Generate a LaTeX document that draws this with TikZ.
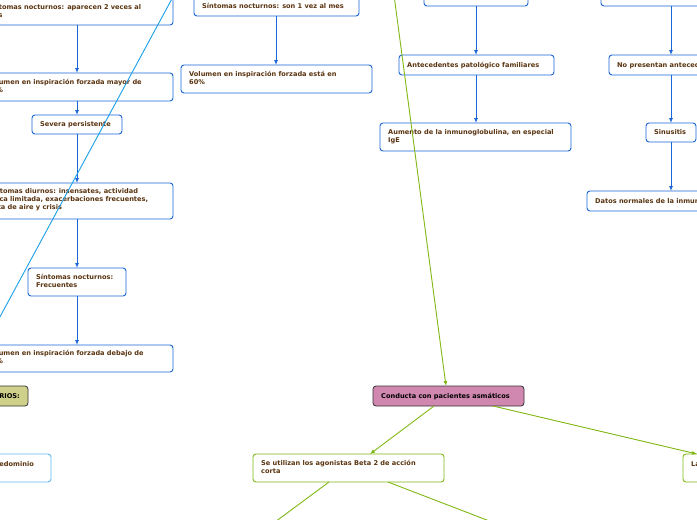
\documentclass[tikz,border=0pt]{standalone}
\usepackage{fontspec}
\setmainfont{DejaVu Sans}
\usetikzlibrary{arrows.meta}
\definecolor{bl}{HTML}{1A66D9}
\definecolor{cy}{HTML}{1AA0E8}
\definecolor{gr}{HTML}{80B814}
\definecolor{tx}{HTML}{5A3410}
\definecolor{pk}{HTML}{D088B0}
\definecolor{ol}{HTML}{CFD08A}
\tikzset{
 bx/.style={draw=bl,line width=0.9pt,rounded corners=3pt,fill=white},
 gbx/.style={draw=gr,line width=0.9pt,rounded corners=3pt,fill=white},
 lbx/.style={draw=cy!70,line width=0.9pt,rounded corners=3pt,fill=white},
 tt/.style={anchor=north west,inner sep=0pt,font=\fontsize{6.6}{8}\selectfont\bfseries,text=tx,align=left},
 ba/.style={draw=bl,line width=0.9pt,-{Latex[length=5pt,width=4pt]}},
 ga/.style={draw=gr,line width=0.9pt,-{Latex[length=5pt,width=4pt]}},
}
\begin{document}
\begin{tikzpicture}[x=1pt,y=-1pt]
\useasboundingbox (0,0) rectangle (697,520);
\clip (0,0) rectangle (697,520);
\fill[white] (0,0) rectangle (697,520);
% blue boxes
\draw[bx] (-10,-5) rectangle (173,25); \node[tt] (a) at (-13,4) {Síntomas nocturnos: aparecen 2 veces al\\mes};
\draw[bx] (194,-5) rectangle (359,16); \node[tt] (b) at (202,3) {Síntomas nocturnos: son 1 vez al mes};
\draw[bx] (181,65) rectangle (372,93); \node[tt] (c) at (189,71) {Volumen en inspiración forzada está en\\60\%};
\draw[bx] (-10,73) rectangle (173,101); \node[tt] (d) at (-13,79) {Volumen en inspiración forzada mayor de\\80\%};
\draw[bx] (32,115) rectangle (122,134); \node[tt] (e) at (40,121) {Severa persistente};
\draw[bx] (-10,183) rectangle (173,219); \node[tt] (f) at (-12,188) {Síntomas diurnos: insensates, actividad\\física limitada, exacerbaciones frecuentes,\\falta de aire y crisis};
\draw[bx] (28,268) rectangle (126,296); \node[tt] (g) at (36,274) {Síntomas nocturnos:\\Frecuentes};
\draw[bx] (-10,345) rectangle (173,372); \node[tt] (h) at (-13,350) {Volumen en inspiración forzada debajo de\\60\%};
\draw[draw=black!80,fill=ol,line width=0.8pt,rounded corners=3pt] (-10,386) rectangle (28,406);
\node[tt,anchor=north east,text=black] (i) at (20,393) {CRITERIOS:};
\draw[lbx] (-10,454) rectangle (51,482); \node[tt,anchor=north east] (j) at (34,461) {Predominio};
\draw[bx] (424,-5) rectangle (528,6);
\draw[bx] (399,55) rectangle (554,75); \node[tt] (l) at (407,62) {Antecedentes patológico familiares};
\draw[bx] (380,123) rectangle (571,151); \node[tt] (m) at (388,129) {Aumento de la inmunoglobulina, en especial\\IgE};
\draw[bx] (601,-5) rectangle (705,6);
\draw[bx] (609,55) rectangle (705,75); \node[tt] (o) at (617,62) {No presentan antecedentes};
\draw[bx] (646,123) rectangle (696,142); \node[tt] (p) at (654,129) {Sinusitis};
\draw[bx] (587,191) rectangle (705,211); \node[tt] (q) at (595,198) {Datos normales de la inmunoglobulina};
% blue arrows
\coordinate (k) at (476,6); \coordinate (n) at (671,6);
\draw[ba] (77,25) -- (77,73);
\draw[ba] (77,101) -- (77,115);
\draw[ba] (77,134) -- (77,183);
\draw[ba] (77,219) -- (77,268);
\draw[ba] (77,296) -- (77,345);
\draw[ba] (276,16) -- (276,65);
\draw[ba] (k) -- (476,55);
\draw[ba] (476,75) -- (476,123);
\draw[ba] (n) -- (671,55);
\draw[ba] (671,75) -- (671,123);
\draw[ba] (671,142) -- (671,191);
% cyan line
\draw[cy,line width=0.9pt] (174,-5) -- (-5,326);
% pink node and greens
\draw[draw=black!80,fill=pk,line width=0.8pt,rounded corners=3pt] (373,386) rectangle (524,406);
\node[tt,text=black] (r) at (381,393) {Conducta con pacientes asmáticos};
\draw[gbx] (253,454) rectangle (444,482); \node[tt] (s) at (261,460) {Se utilizan los agonistas Beta 2 de acción\\corta};
\draw[gbx] (683,454) rectangle (705,482); \node[tt] (t) at (691,461) {Las};
\draw[ga] (394,-5) -- (446,386);
\draw[ga] (434,406) -- (370,454);
\draw[ga] (493,406) -- (697,454);
\draw[gr,line width=0.9pt] (329,482) -- (275,522);
\draw[gr,line width=0.9pt] (388,482) -- (492,522);
\end{tikzpicture}
\end{document}
